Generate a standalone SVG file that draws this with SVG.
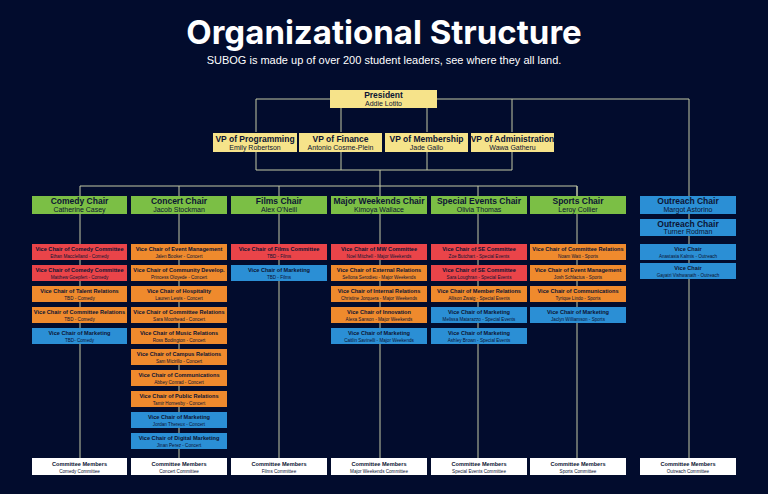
<svg xmlns="http://www.w3.org/2000/svg" width="768" height="494" viewBox="0 0 768 494">
<style>
.t{font-family:"Liberation Sans",Arial,sans-serif;fill:#0b1433;text-anchor:middle}
.h{font-weight:bold}
.ln{stroke:#c3c9a6;stroke-width:1;fill:none}
.y{fill:#f6e38a}.g{fill:#7bbf45}.r{fill:#ea4449}.o{fill:#ef8a2d}.b{fill:#2b8fd5}.w{fill:#ffffff}
.v1{font-size:5.6px;font-weight:bold}.v2{font-size:4.6px}
.c1{font-size:8.5px;font-weight:bold}.c2{font-size:7px}
</style>
<rect width="768" height="494" fill="#020c2d"/>
<text x="384" y="44" font-family="Inter,'Liberation Sans',sans-serif" font-size="33" font-weight="bold" fill="#fff" text-anchor="middle">Organizational Structure</text>
<text x="384" y="64" font-family="'Liberation Sans',Arial,sans-serif" font-size="11" fill="#fff" text-anchor="middle">SUBOG is made up of over 200 student leaders, see where they all land.</text>
<g id="connectors" class="ln">
<path d="M256 99H689V470M256 99V132M341 99V132M427 99V132M512 99V132M256 152V170H512M341 152V170M427 152V170M512 152V170M380 170V196M80 186H577V196M80 186V458M179 186V458M279 186V458M478 186V458M577 186V458M380 196V458"/>
</g>
<g id="president"><rect class="y" x="330" y="90" width="107" height="18"/><text class="t c1" x="383.5" y="98">President</text><text class="t c2" x="383.5" y="105.5">Addie Lotito</text></g>
<g id="vp-programming"><rect class="y" x="213" y="133" width="84" height="19"/><text class="t c1" x="255" y="142">VP of Programming</text><text class="t c2" x="255" y="149.5">Emily Robertson</text></g>
<g id="vp-finance"><rect class="y" x="299" y="133" width="83" height="19"/><text class="t c1" x="340.5" y="142">VP of Finance</text><text class="t c2" x="340.5" y="149.5">Antonio Cosme-Plein</text></g>
<g id="vp-membership"><rect class="y" x="385" y="133" width="83" height="19"/><text class="t c1" x="426.5" y="142">VP of Membership</text><text class="t c2" x="426.5" y="149.5">Jade Gallo</text></g>
<g id="vp-administration"><rect class="y" x="471" y="133" width="83" height="19"/><text class="t c1" x="512.5" y="142">VP of Administration</text><text class="t c2" x="512.5" y="149.5">Wawa Gatheru</text></g>
<g id="chairs">
<g id="comedy-chair"><rect class="g" x="32" y="196" width="95" height="18"/><text class="t c1" x="79.5" y="204">Comedy Chair</text><text class="t c2" x="79.5" y="211.5">Catherine Casey</text></g>
<g id="concert-chair"><rect class="g" x="131" y="196" width="96" height="18"/><text class="t c1" x="179" y="204">Concert Chair</text><text class="t c2" x="179" y="211.5">Jacob Stockman</text></g>
<g id="films-chair"><rect class="g" x="231" y="196" width="96" height="18"/><text class="t c1" x="279" y="204">Films Chair</text><text class="t c2" x="279" y="211.5">Alex O'Neill</text></g>
<g id="mw-chair"><rect class="g" x="331" y="196" width="96" height="18"/><text class="t c1" x="379" y="204">Major Weekends Chair</text><text class="t c2" x="379" y="211.5">Kimoya Wallace</text></g>
<g id="se-chair"><rect class="g" x="431" y="196" width="96" height="18"/><text class="t c1" x="479" y="204">Special Events Chair</text><text class="t c2" x="479" y="211.5">Olivia Thomas</text></g>
<g id="sports-chair"><rect class="g" x="530" y="196" width="96" height="18"/><text class="t c1" x="578" y="204">Sports Chair</text><text class="t c2" x="578" y="211.5">Leroy Collier</text></g>
<g id="outreach-chair-1"><rect class="b" x="640" y="196" width="96" height="18"/><text class="t c1" x="688" y="204">Outreach Chair</text><text class="t c2" x="688" y="211.5">Margot Astorino</text></g>
<g id="outreach-chair-2"><rect class="b" x="640" y="219" width="96" height="17"/><text class="t c1" x="688" y="227">Outreach Chair</text><text class="t c2" x="688" y="234">Turner Rodman</text></g>
<g id="outreach-vc-1"><rect class="b" x="640" y="244" width="96" height="16"/><text class="t v1" x="688" y="251">Vice Chair</text><text class="t v2" x="688" y="257.5">Anastasia Kalmis - Outreach</text></g>
<g id="outreach-vc-2"><rect class="b" x="640" y="263" width="96" height="16"/><text class="t v1" x="688" y="270">Vice Chair</text><text class="t v2" x="688" y="276.5">Gayatri Vishwanath - Outreach</text></g>
</g>
<g id="comedy-vice">
<rect class="r" x="32" y="244" width="95" height="16"/><text class="t v1" x="79.5" y="251">Vice Chair of Comedy Committee</text><text class="t v2" x="79.5" y="257.5">Ethan Macclelland - Comedy</text>
<rect class="r" x="32" y="265" width="95" height="16"/><text class="t v1" x="79.5" y="272">Vice Chair of Comedy Committee</text><text class="t v2" x="79.5" y="278.5">Matthew Goepfert - Comedy</text>
<rect class="o" x="32" y="286" width="95" height="16"/><text class="t v1" x="79.5" y="293">Vice Chair of Talent Relations</text><text class="t v2" x="79.5" y="299.5">TBD - Comedy</text>
<rect class="o" x="32" y="307" width="95" height="16"/><text class="t v1" x="79.5" y="314">Vice Chair of Committee Relations</text><text class="t v2" x="79.5" y="320.5">TBD - Comedy</text>
<rect class="b" x="32" y="328" width="95" height="16"/><text class="t v1" x="79.5" y="335">Vice Chair of Marketing</text><text class="t v2" x="79.5" y="341.5">TBD- Comedy</text>
</g>
<g id="concert-vice">
<rect class="o" x="131" y="244" width="96" height="16"/><text class="t v1" x="179" y="251">Vice Chair of Event Management</text><text class="t v2" x="179" y="257.5">Jalen Booker - Concert</text>
<rect class="o" x="131" y="265" width="96" height="16"/><text class="t v1" x="179" y="272">Vice Chair of Community Develop.</text><text class="t v2" x="179" y="278.5">Princess Oloyede - Concert</text>
<rect class="o" x="131" y="286" width="96" height="16"/><text class="t v1" x="179" y="293">Vice Chair of Hospitality</text><text class="t v2" x="179" y="299.5">Lauren Lewis - Concert</text>
<rect class="o" x="131" y="307" width="96" height="16"/><text class="t v1" x="179" y="314">Vice Chair of Committee Relations</text><text class="t v2" x="179" y="320.5">Sara Moorhead - Concert</text>
<rect class="o" x="131" y="328" width="96" height="16"/><text class="t v1" x="179" y="335">Vice Chair of Music Relations</text><text class="t v2" x="179" y="341.5">Ross Bodington - Concert</text>
<rect class="o" x="131" y="349" width="96" height="16"/><text class="t v1" x="179" y="356">Vice Chair of Campus Relations</text><text class="t v2" x="179" y="362.5">Sam Micirillo - Concert</text>
<rect class="o" x="131" y="370" width="96" height="16"/><text class="t v1" x="179" y="377">Vice Chair of Communications</text><text class="t v2" x="179" y="383.5">Abbey Conrad - Concert</text>
<rect class="o" x="131" y="391" width="96" height="16"/><text class="t v1" x="179" y="398">Vice Chair of Public Relations</text><text class="t v2" x="179" y="404.5">Tamir Hornesby - Concert</text>
<rect class="b" x="131" y="412" width="96" height="16"/><text class="t v1" x="179" y="419">Vice Chair of Marketing</text><text class="t v2" x="179" y="425.5">Jordan Thereux - Concert</text>
<rect class="b" x="131" y="433" width="96" height="16"/><text class="t v1" x="179" y="440">Vice Chair of Digital Marketing</text><text class="t v2" x="179" y="446.5">Jinan Perez - Concert</text>
</g>
<g id="films-vice">
<rect class="r" x="231" y="244" width="96" height="16"/><text class="t v1" x="279" y="251">Vice Chair of Films Committee</text><text class="t v2" x="279" y="257.5">TBD - Films</text>
<rect class="b" x="231" y="265" width="96" height="16"/><text class="t v1" x="279" y="272">Vice Chair of Marketing</text><text class="t v2" x="279" y="278.5">TBD - Films</text>
</g>
<g id="mw-vice">
<rect class="r" x="331" y="244" width="96" height="16"/><text class="t v1" x="379" y="251">Vice Chair of MW Committee</text><text class="t v2" x="379" y="257.5">Noel Mitchell - Major Weekends</text>
<rect class="o" x="331" y="265" width="96" height="16"/><text class="t v1" x="379" y="272">Vice Chair of External Relations</text><text class="t v2" x="379" y="278.5">Sellona Serodieu - Major Weekends</text>
<rect class="o" x="331" y="286" width="96" height="16"/><text class="t v1" x="379" y="293">Vice Chair of Internal Relations</text><text class="t v2" x="379" y="299.5">Christine Jorquera - Major Weekends</text>
<rect class="o" x="331" y="307" width="96" height="16"/><text class="t v1" x="379" y="314">Vice Chair of Innovation</text><text class="t v2" x="379" y="320.5">Alexa Sanson - Major Weekends</text>
<rect class="b" x="331" y="328" width="96" height="16"/><text class="t v1" x="379" y="335">Vice Chair of Marketing</text><text class="t v2" x="379" y="341.5">Caitlin Savinelli - Major Weekends</text>
</g>
<g id="se-vice">
<rect class="r" x="431" y="244" width="96" height="16"/><text class="t v1" x="479" y="251">Vice Chair of SE Committee</text><text class="t v2" x="479" y="257.5">Zoe Butchart - Special Events</text>
<rect class="r" x="431" y="265" width="96" height="16"/><text class="t v1" x="479" y="272">Vice Chair of SE Committee</text><text class="t v2" x="479" y="278.5">Sara Loughran - Special Events</text>
<rect class="o" x="431" y="286" width="96" height="16"/><text class="t v1" x="479" y="293">Vice Chair of Member Relations</text><text class="t v2" x="479" y="299.5">Allison Zwaig - Special Events</text>
<rect class="b" x="431" y="307" width="96" height="16"/><text class="t v1" x="479" y="314">Vice Chair of Marketing</text><text class="t v2" x="479" y="320.5">Melissa Matarazzo - Special Events</text>
<rect class="b" x="431" y="328" width="96" height="16"/><text class="t v1" x="479" y="335">Vice Chair of Marketing</text><text class="t v2" x="479" y="341.5">Ashley Brown - Special Events</text>
</g>
<g id="sports-vice">
<rect class="o" x="530" y="244" width="96" height="16"/><text class="t v1" x="578" y="251">Vice Chair of Committee Relations</text><text class="t v2" x="578" y="257.5">Noam Watt - Sports</text>
<rect class="o" x="530" y="265" width="96" height="16"/><text class="t v1" x="578" y="272">Vice Chair of Event Management</text><text class="t v2" x="578" y="278.5">Josh Schlactus - Sports</text>
<rect class="o" x="530" y="286" width="96" height="16"/><text class="t v1" x="578" y="293">Vice Chair of Communications</text><text class="t v2" x="578" y="299.5">Tyrique Lindo - Sports</text>
<rect class="b" x="530" y="307" width="96" height="16"/><text class="t v1" x="578" y="314">Vice Chair of Marketing</text><text class="t v2" x="578" y="320.5">Jaclyn Williamson - Sports</text>
</g>
<g id="committees">
<rect class="w" x="32" y="458" width="95" height="17"/><text class="t v1" x="79.5" y="466">Committee Members</text><text class="t v2" x="79.5" y="472.5">Comedy Committee</text>
<rect class="w" x="131" y="458" width="96" height="17"/><text class="t v1" x="179" y="466">Committee Members</text><text class="t v2" x="179" y="472.5">Concert Committee</text>
<rect class="w" x="231" y="458" width="96" height="17"/><text class="t v1" x="279" y="466">Committee Members</text><text class="t v2" x="279" y="472.5">Films Committee</text>
<rect class="w" x="331" y="458" width="96" height="17"/><text class="t v1" x="379" y="466">Committee Members</text><text class="t v2" x="379" y="472.5">Major Weekends Committee</text>
<rect class="w" x="431" y="458" width="96" height="17"/><text class="t v1" x="479" y="466">Committee Members</text><text class="t v2" x="479" y="472.5">Special Events Committee</text>
<rect class="w" x="530" y="458" width="96" height="17"/><text class="t v1" x="578" y="466">Committee Members</text><text class="t v2" x="578" y="472.5">Sports Committee</text>
<rect class="w" x="640" y="458" width="96" height="17"/><text class="t v1" x="688" y="466">Committee Members</text><text class="t v2" x="688" y="472.5">Outreach Committee</text>
</g>
</svg>
